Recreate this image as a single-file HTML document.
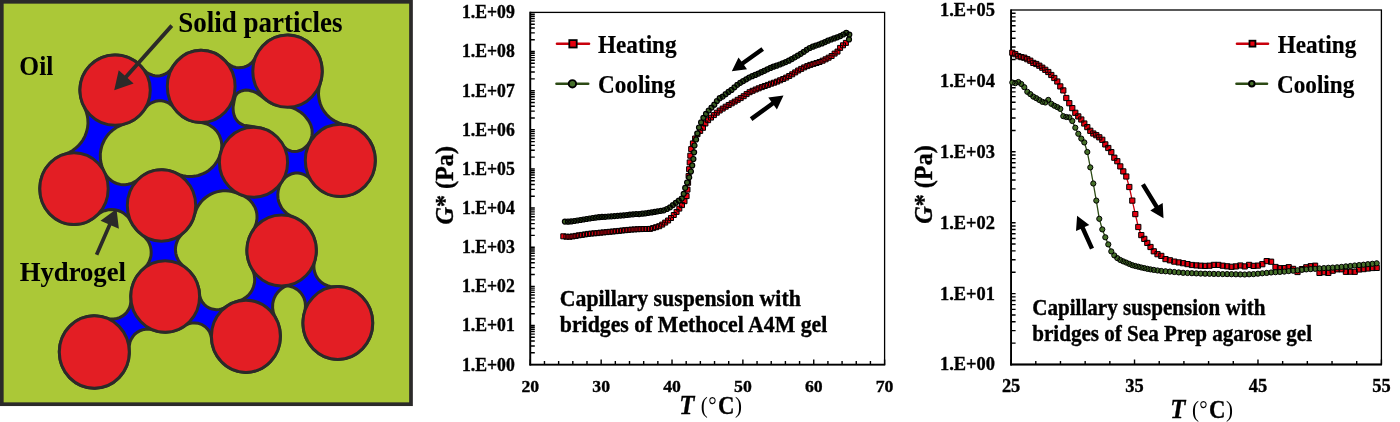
<!DOCTYPE html>
<html><head><meta charset="utf-8"><style>
html,body{margin:0;padding:0;background:#fff;}
svg{display:block;}
text{font-family:"Liberation Serif","Times New Roman",serif;fill:#000;}
.b{font-weight:bold;}
</style></head><body>
<svg width="1400" height="422" viewBox="0 0 1400 422">
<rect width="1400" height="422" fill="#fff"/>
<rect x="1.8" y="1.8" width="409.2" height="402.4" fill="#abc837" stroke="#2b2a29" stroke-width="3.7"/>
<path d="M171.2,69.1 L169.6,70.8 L167.4,72.7 L165.4,73.9 L162.8,75.0 L160.0,75.7 L157.7,75.9 L154.8,75.7 L152.6,75.2 L149.4,74.0 L146.4,72.2 L144.3,70.2 L141.3,66.5 L138.8,64.1 L136.0,61.8 L132.5,59.5 L129.3,57.9 L125.4,56.4 L121.9,55.6 L117.8,55.0 L114.3,54.9 L110.9,55.2 L107.5,55.7 L104.3,56.6 L101.5,57.6 L98.4,59.1 L95.5,60.9 L92.7,63.0 L90.1,65.3 L87.8,67.9 L85.8,70.6 L84.0,73.6 L82.5,76.7 L81.4,80.0 L80.6,83.3 L80.1,86.5 L79.9,89.3 L80.0,92.5 L80.8,97.9 L82.3,102.9 L85.0,108.6 L86.2,111.6 L87.3,115.8 L87.8,119.1 L88.0,123.4 L87.5,127.8 L86.5,132.0 L85.0,136.1 L82.9,140.0 L81.1,142.6 L78.2,145.9 L74.9,148.8 L72.3,150.7 L69.4,152.3 L66.4,153.6 L61.6,155.3 L58.0,157.0 L54.4,159.3 L51.1,162.0 L48.2,165.2 L45.6,168.6 L43.5,172.4 L41.8,176.5 L40.4,181.8 L40.0,185.1 L39.8,187.9 L39.9,191.2 L40.2,194.1 L40.8,197.3 L41.6,200.1 L43.8,205.5 L45.2,208.0 L47.0,210.7 L48.7,212.9 L50.9,215.2 L53.1,217.1 L55.6,219.0 L58.5,220.7 L61.0,221.9 L63.9,223.0 L66.6,223.8 L69.7,224.3 L72.5,224.6 L75.5,224.6 L78.3,224.3 L81.4,223.8 L84.1,223.0 L89.3,220.8 L93.6,218.1 L99.7,213.1 L102.2,211.7 L104.8,210.7 L108.2,209.8 L111.0,209.6 L114.6,209.8 L118.0,210.5 L120.7,211.5 L123.2,212.9 L125.4,214.6 L128.0,217.0 L130.0,219.9 L133.1,225.4 L135.7,228.9 L139.3,232.6 L144.5,236.8 L147.2,240.0 L148.7,242.3 L149.6,244.2 L150.5,246.8 L151.0,249.5 L151.2,252.3 L151.0,255.8 L150.1,259.1 L148.8,262.3 L147.7,264.1 L146.0,266.3 L140.9,271.2 L138.0,274.6 L135.3,278.8 L133.5,282.7 L132.1,286.9 L131.2,291.4 L130.8,295.5 L130.9,301.7 L130.3,305.2 L129.6,307.5 L128.2,310.2 L126.8,312.2 L125.2,314.0 L122.3,316.2 L119.6,317.6 L116.8,318.5 L113.8,319.0 L111.3,319.0 L108.9,318.7 L101.9,316.7 L96.8,315.9 L93.6,315.8 L90.8,316.0 L87.6,316.5 L85.1,317.1 L80.0,319.0 L77.1,320.4 L74.8,322.0 L72.2,323.9 L70.1,325.9 L67.9,328.3 L66.1,330.5 L63.1,335.6 L61.1,340.5 L59.8,345.7 L59.3,351.2 L59.6,356.5 L60.8,362.4 L62.7,367.6 L65.3,372.2 L68.9,376.9 L70.9,378.9 L73.4,381.0 L75.7,382.6 L78.5,384.3 L83.4,386.4 L85.9,387.1 L89.0,387.8 L91.8,388.1 L95.0,388.2 L100.4,387.6 L103.5,386.9 L106.2,386.0 L109.2,384.8 L111.7,383.4 L114.4,381.7 L116.6,379.9 L119.0,377.7 L120.9,375.6 L122.9,372.9 L124.4,370.5 L125.9,367.6 L127.0,364.9 L128.6,359.2 L129.3,353.7 L129.2,346.1 L130.0,342.0 L131.2,339.2 L132.8,336.6 L134.7,334.3 L137.1,332.4 L139.7,330.9 L141.9,330.0 L144.3,329.4 L147.3,329.1 L151.5,329.5 L156.9,331.2 L161.1,331.9 L165.9,332.2 L170.4,331.8 L174.5,330.9 L178.5,329.4 L182.1,327.6 L186.4,324.8 L188.5,323.9 L191.7,323.1 L194.5,322.9 L198.4,323.3 L202.1,324.7 L205.3,326.8 L208.1,329.6 L209.6,332.0 L210.8,335.1 L211.3,337.3 L211.8,341.7 L212.5,345.2 L213.7,349.2 L215.1,352.6 L217.2,356.3 L219.7,359.8 L222.7,363.0 L225.9,365.8 L229.5,368.1 L233.4,369.9 L237.4,371.3 L241.6,372.1 L245.8,372.4 L250.0,372.1 L254.2,371.3 L258.2,370.0 L261.3,368.6 L264.4,366.7 L267.7,364.3 L270.4,361.7 L273.0,358.6 L275.1,355.5 L277.0,351.8 L278.4,348.4 L279.6,344.1 L280.2,339.9 L280.4,335.5 L280.1,331.8 L279.4,327.6 L278.3,324.0 L276.8,320.2 L274.5,315.8 L273.3,312.3 L272.6,308.1 L272.7,303.7 L273.3,300.9 L274.2,298.1 L275.8,294.9 L277.5,292.6 L279.5,290.4 L281.7,288.6 L284.1,287.0 L286.8,285.8 L289.9,286.2 L292.4,287.0 L294.8,288.1 L297.0,289.4 L299.1,291.1 L300.9,293.0 L302.4,295.1 L304.0,298.1 L305.1,301.8 L305.5,305.8 L305.2,309.1 L303.6,315.8 L303.0,320.2 L303.0,325.6 L303.6,330.2 L305.0,335.4 L307.4,340.8 L310.4,345.5 L313.8,349.4 L315.8,351.2 L318.3,353.2 L323.0,356.0 L325.4,357.0 L328.4,358.0 L331.1,358.7 L334.3,359.2 L339.6,359.3 L342.8,359.0 L345.6,358.5 L348.6,357.6 L351.3,356.6 L354.1,355.2 L356.4,353.8 L358.7,352.2 L361.3,349.9 L363.7,347.4 L365.8,344.8 L367.3,342.4 L369.0,339.3 L370.4,336.0 L371.5,332.6 L372.2,329.1 L372.6,325.8 L372.7,322.2 L372.5,319.3 L372.1,316.0 L371.2,312.5 L370.1,309.2 L368.6,305.9 L365.8,301.2 L362.4,297.2 L358.5,293.7 L356.4,292.2 L353.6,290.5 L348.9,288.5 L343.9,287.2 L339.4,286.6 L332.2,286.7 L330.2,286.4 L327.7,285.7 L324.6,284.5 L322.4,283.1 L320.4,281.4 L318.5,279.5 L317.0,277.4 L315.7,275.1 L314.8,272.6 L314.1,269.4 L313.9,266.8 L314.0,264.8 L314.3,262.9 L315.4,258.3 L315.9,255.5 L316.3,252.0 L316.3,248.8 L315.9,245.1 L315.1,241.0 L313.9,237.5 L312.5,234.3 L310.9,231.3 L308.5,228.0 L306.0,225.2 L303.5,222.9 L301.0,221.0 L298.1,219.2 L295.5,217.9 L291.0,216.0 L289.0,214.9 L286.5,213.2 L284.3,211.1 L281.8,208.1 L280.0,204.8 L278.6,201.2 L278.0,198.2 L277.8,194.4 L278.2,190.6 L279.2,186.9 L280.8,183.4 L283.3,179.7 L285.6,177.2 L288.4,175.3 L292.0,173.7 L295.3,173.1 L298.2,173.0 L301.0,173.5 L304.2,174.6 L306.6,176.0 L308.4,177.3 L310.4,179.4 L313.3,183.4 L316.1,186.5 L319.5,189.5 L323.1,191.9 L327.6,194.0 L331.9,195.4 L336.8,196.3 L341.9,196.5 L347.0,195.8 L352.2,194.4 L355.2,193.1 L357.5,191.9 L361.9,188.8 L364.4,186.6 L366.2,184.7 L369.5,180.4 L372.3,175.1 L374.1,169.9 L374.9,165.6 L375.3,161.2 L375.1,156.8 L374.4,152.4 L373.2,148.1 L371.5,144.1 L369.3,140.3 L366.7,136.7 L364.4,134.2 L361.7,131.9 L358.9,129.8 L355.4,127.8 L352.8,126.7 L349.7,125.6 L342.3,124.1 L339.4,123.1 L335.6,121.5 L332.9,119.9 L329.5,117.4 L326.6,114.5 L324.0,111.2 L321.9,107.7 L320.3,103.8 L319.4,100.8 L318.7,96.8 L318.5,93.6 L318.7,90.5 L319.1,87.5 L321.1,80.1 L321.8,76.4 L322.2,72.0 L322.0,67.6 L321.3,63.2 L320.1,58.9 L318.4,54.9 L316.3,51.1 L313.3,47.0 L310.1,43.8 L306.2,40.8 L302.2,38.5 L297.7,36.7 L293.3,35.6 L288.5,35.1 L283.4,35.4 L279.0,36.2 L274.3,37.8 L270.3,39.8 L266.1,42.8 L262.4,46.2 L259.6,49.8 L257.3,53.5 L254.7,58.8 L252.6,61.7 L251.0,63.3 L248.7,65.1 L246.6,66.2 L244.4,67.0 L241.6,67.6 L238.7,67.7 L235.8,67.4 L233.0,66.6 L230.9,65.6 L228.9,64.4 L227.1,62.9 L224.0,59.7 L221.5,57.5 L218.5,55.4 L215.6,53.7 L211.9,52.2 L207.9,51.0 L203.8,50.4 L200.3,50.3 L195.5,50.8 L191.5,51.8 L187.6,53.4 L183.7,55.5 L180.3,58.0 L177.2,61.0 L174.4,64.3ZM240.6,300.3 L234.4,302.3 L231.2,303.6 L223.6,308.1 L221.5,308.9 L219.4,309.4 L216.1,309.7 L212.2,309.1 L209.1,308.0 L206.3,306.2 L204.6,304.8 L203.1,303.1 L201.9,301.3 L200.8,299.3 L199.8,296.2 L199.1,290.3 L198.1,286.2 L196.7,282.1 L194.8,278.2 L192.4,274.6 L189.6,271.3 L186.9,268.8 L182.2,265.1 L179.9,262.6 L178.4,260.3 L177.1,257.8 L176.2,255.2 L175.8,253.2 L175.4,249.8 L175.6,247.0 L176.3,243.6 L177.5,240.4 L178.8,238.0 L180.1,236.3 L181.4,234.7 L186.8,229.6 L188.5,227.4 L190.5,224.5 L192.0,221.7 L193.1,219.0 L195.2,212.5 L196.3,209.6 L197.6,206.9 L199.3,204.2 L201.2,201.8 L203.3,199.5 L205.7,197.5 L208.2,195.7 L210.9,194.1 L213.7,192.9 L216.7,191.9 L219.7,191.2 L222.8,190.8 L225.9,190.8 L229.0,191.0 L232.0,191.5 L237.0,193.1 L243.4,195.8 L245.4,196.9 L247.4,198.1 L249.7,200.1 L252.7,203.6 L254.3,206.2 L255.3,208.2 L256.3,211.1 L256.8,213.4 L257.0,215.7 L257.0,218.7 L256.2,223.2 L254.6,227.5 L251.1,233.6 L249.0,238.3 L247.5,243.6 L246.9,249.4 L247.2,254.9 L248.4,260.6 L249.9,264.9 L253.1,271.2 L254.2,274.7 L254.7,279.1 L254.6,282.0 L254.2,284.2 L253.4,287.0 L252.3,289.7 L250.8,292.2 L248.5,295.1 L246.3,297.0 L243.2,299.1ZM104.2,171.9 L102.3,167.6 L101.1,163.4 L100.4,159.1 L100.3,153.6 L101.0,149.3 L102.1,145.0 L104.4,140.0 L106.7,136.4 L108.8,133.8 L111.1,131.5 L113.6,129.4 L116.4,127.5 L121.3,125.1 L129.5,122.2 L132.5,120.7 L135.5,118.8 L138.6,116.3 L141.1,113.8 L143.3,111.2 L146.2,107.1 L148.2,105.0 L151.5,102.8 L155.3,101.3 L158.7,100.8 L161.6,100.8 L164.4,101.4 L167.1,102.3 L169.6,103.7 L171.9,105.5 L173.4,107.2 L176.7,111.4 L179.8,114.4 L182.5,116.5 L185.9,118.6 L189.1,120.1 L192.3,121.2 L196.1,122.1 L201.3,122.6 L204.3,123.2 L207.2,124.1 L209.9,125.4 L213.7,128.0 L216.8,131.3 L219.3,135.2 L220.9,139.5 L221.4,141.7 L221.8,144.7 L221.7,147.0 L221.4,150.0 L219.6,156.2 L218.4,159.0 L216.9,161.7 L215.1,164.2 L213.1,166.6 L210.9,168.7 L208.5,170.7 L205.9,172.3 L203.1,173.7 L198.3,175.5 L195.3,176.1 L192.2,176.5 L189.1,176.5 L186.0,176.3 L183.0,175.7 L180.0,174.9 L172.9,171.8 L168.3,170.5 L163.0,169.8 L157.4,170.1 L154.7,170.5 L151.7,171.3 L149.1,172.2 L146.2,173.6 L141.9,176.2 L136.4,180.8 L132.7,182.8 L130.1,183.8 L128.1,184.3 L125.3,184.7 L123.2,184.7 L120.4,184.4 L117.6,183.8 L114.4,182.5 L111.9,181.0 L109.7,179.3 L107.3,176.8 L105.6,174.5ZM234.2,100.6 L234.9,97.5 L235.6,95.6 L236.5,94.3 L238.0,92.8 L240.4,91.4 L243.2,90.5 L245.5,90.1 L248.6,90.3 L252.4,91.2 L255.9,92.5 L261.4,96.3 L266.8,100.5 L271.1,103.1 L273.8,104.4 L276.8,105.2 L284.8,106.1 L289.7,107.1 L293.2,108.1 L296.2,109.5 L300.7,112.3 L302.9,114.0 L304.8,115.9 L308.2,120.2 L309.6,122.5 L310.7,124.8 L311.4,127.0 L312.0,129.3 L312.2,133.1 L311.9,135.5 L311.4,137.8 L309.9,141.6 L308.0,144.4 L305.6,147.0 L302.9,149.1 L300.6,150.3 L297.5,151.2 L294.3,151.6 L291.4,151.2 L288.6,150.2 L286.2,148.7 L284.5,147.2 L283.1,145.5 L280.4,141.4 L276.0,136.5 L272.2,133.5 L267.5,130.5 L264.2,129.0 L260.6,127.9 L252.0,126.4 L245.8,125.6 L243.4,125.1 L240.5,123.7 L238.2,122.0 L236.3,119.8 L235.1,117.8 L234.2,115.5 L233.4,112.4 L233.1,109.3 L233.1,107.0Z" fill="#0000ff" stroke="#2b2a29" stroke-width="3.0" fill-rule="evenodd" stroke-linejoin="round"/>
<ellipse cx="115.1" cy="90.1" rx="35.20" ry="35.20" fill="#e31e24" stroke="#2b2a29" stroke-width="3.0"/>
<ellipse cx="201.2" cy="86.4" rx="33.90" ry="36.10" fill="#e31e24" stroke="#2b2a29" stroke-width="3.0"/>
<ellipse cx="287.5" cy="71.2" rx="34.70" ry="36.10" fill="#e31e24" stroke="#2b2a29" stroke-width="3.0"/>
<ellipse cx="253.5" cy="162.3" rx="34.10" ry="35.00" fill="#e31e24" stroke="#2b2a29" stroke-width="3.0"/>
<ellipse cx="340.3" cy="160.4" rx="35.00" ry="36.10" fill="#e31e24" stroke="#2b2a29" stroke-width="3.0"/>
<ellipse cx="74" cy="188.7" rx="34.20" ry="35.90" fill="#e31e24" stroke="#2b2a29" stroke-width="3.0"/>
<ellipse cx="161.5" cy="205.5" rx="34.20" ry="35.70" fill="#e31e24" stroke="#2b2a29" stroke-width="3.0"/>
<ellipse cx="281.6" cy="250.4" rx="34.70" ry="35.50" fill="#e31e24" stroke="#2b2a29" stroke-width="3.0"/>
<ellipse cx="165.2" cy="296.5" rx="34.40" ry="35.70" fill="#e31e24" stroke="#2b2a29" stroke-width="3.0"/>
<ellipse cx="94.3" cy="352" rx="35.00" ry="36.20" fill="#e31e24" stroke="#2b2a29" stroke-width="3.0"/>
<ellipse cx="245.9" cy="336.3" rx="34.50" ry="36.10" fill="#e31e24" stroke="#2b2a29" stroke-width="3.0"/>
<ellipse cx="337.8" cy="323" rx="34.90" ry="36.40" fill="#e31e24" stroke="#2b2a29" stroke-width="3.0"/>
<path d="M170.4,24.3 L124.7,75.6 L118.7,70.2 L114.2,90.3 L133.6,83.5 L127.6,78.1 L173.2,26.9Z" fill="#2b2a29"/>
<path d="M98.3,255.5 L111.4,225.4 L118.9,228.7 L116.5,209.1 L100.5,220.7 L108.0,223.9 L94.9,253.9Z" fill="#2b2a29"/>
<text transform="translate(178.30,32.30) scale(1,1.06)" font-size="27" class="b" fill="#24203a" stroke="#24203a" stroke-width="0.05">Solid particles</text>
<text transform="translate(19.30,75.40) scale(1,1.06)" font-size="25.5" class="b" fill="#24203a" stroke="#24203a" stroke-width="0.05">Oil</text>
<text transform="translate(19.70,280.60) scale(1,1.06)" font-size="26.7" class="b" fill="#24203a" stroke="#24203a" stroke-width="0.05">Hydrogel</text>
<rect x="530.3" y="12.4" width="354.30000000000007" height="352.20000000000005" fill="none" stroke="#000" stroke-width="1.3"/>
<line x1="530.3" y1="11.8" x2="530.3" y2="365.5" stroke="#000" stroke-width="1.8"/>
<line x1="529.4" y1="364.6" x2="885.2" y2="364.6" stroke="#000" stroke-width="1.8"/>
<path d="M530.3,352.82h4.5M530.3,345.93h4.5M530.3,341.04h4.5M530.3,337.25h4.5M530.3,334.15h4.5M530.3,331.53h4.5M530.3,329.26h4.5M530.3,327.26h4.5M530.3,325.47h4.5M530.3,313.69h4.5M530.3,306.80h4.5M530.3,301.91h4.5M530.3,298.11h4.5M530.3,295.02h4.5M530.3,292.40h4.5M530.3,290.13h4.5M530.3,288.12h4.5M530.3,286.33h4.5M530.3,274.55h4.5M530.3,267.66h4.5M530.3,262.77h4.5M530.3,258.98h4.5M530.3,255.88h4.5M530.3,253.26h4.5M530.3,250.99h4.5M530.3,248.99h4.5M530.3,247.20h4.5M530.3,235.42h4.5M530.3,228.53h4.5M530.3,223.64h4.5M530.3,219.85h4.5M530.3,216.75h4.5M530.3,214.13h4.5M530.3,211.86h4.5M530.3,209.86h4.5M530.3,208.07h4.5M530.3,196.29h4.5M530.3,189.40h4.5M530.3,184.51h4.5M530.3,180.71h4.5M530.3,177.62h4.5M530.3,175.00h4.5M530.3,172.73h4.5M530.3,170.72h4.5M530.3,168.93h4.5M530.3,157.15h4.5M530.3,150.26h4.5M530.3,145.37h4.5M530.3,141.58h4.5M530.3,138.48h4.5M530.3,135.86h4.5M530.3,133.59h4.5M530.3,131.59h4.5M530.3,129.80h4.5M530.3,118.02h4.5M530.3,111.13h4.5M530.3,106.24h4.5M530.3,102.45h4.5M530.3,99.35h4.5M530.3,96.73h4.5M530.3,94.46h4.5M530.3,92.46h4.5M530.3,90.67h4.5M530.3,78.89h4.5M530.3,72.00h4.5M530.3,67.11h4.5M530.3,63.31h4.5M530.3,60.22h4.5M530.3,57.60h4.5M530.3,55.33h4.5M530.3,53.32h4.5M530.3,51.53h4.5M530.3,39.75h4.5M530.3,32.86h4.5M530.3,27.97h4.5M530.3,24.18h4.5M530.3,21.08h4.5M530.3,18.46h4.5M530.3,16.19h4.5M530.3,14.19h4.5" stroke="#000" stroke-width="1.4" fill="none"/>
<path d="M530.30,364.6v-5M544.47,364.6v-3.6M558.64,364.6v-3.6M572.82,364.6v-3.6M586.99,364.6v-3.6M601.16,364.6v-5M615.33,364.6v-3.6M629.50,364.6v-3.6M643.68,364.6v-3.6M657.85,364.6v-3.6M672.02,364.6v-5M686.19,364.6v-3.6M700.36,364.6v-3.6M714.54,364.6v-3.6M728.71,364.6v-3.6M742.88,364.6v-5M757.05,364.6v-3.6M771.22,364.6v-3.6M785.40,364.6v-3.6M799.57,364.6v-3.6M813.74,364.6v-5M827.91,364.6v-3.6M842.08,364.6v-3.6M856.26,364.6v-3.6M870.43,364.6v-3.6M884.60,364.6v-5" stroke="#000" stroke-width="1.4" fill="none"/>
<text transform="translate(514.80,370.50) scale(1,1.06)" font-size="17.7" class="b" text-anchor="end" stroke="#000" stroke-width="0.35">1.E+00</text>
<text transform="translate(514.80,331.37) scale(1,1.06)" font-size="17.7" class="b" text-anchor="end" stroke="#000" stroke-width="0.35">1.E+01</text>
<text transform="translate(514.80,292.23) scale(1,1.06)" font-size="17.7" class="b" text-anchor="end" stroke="#000" stroke-width="0.35">1.E+02</text>
<text transform="translate(514.80,253.10) scale(1,1.06)" font-size="17.7" class="b" text-anchor="end" stroke="#000" stroke-width="0.35">1.E+03</text>
<text transform="translate(514.80,213.97) scale(1,1.06)" font-size="17.7" class="b" text-anchor="end" stroke="#000" stroke-width="0.35">1.E+04</text>
<text transform="translate(514.80,174.83) scale(1,1.06)" font-size="17.7" class="b" text-anchor="end" stroke="#000" stroke-width="0.35">1.E+05</text>
<text transform="translate(514.80,135.70) scale(1,1.06)" font-size="17.7" class="b" text-anchor="end" stroke="#000" stroke-width="0.35">1.E+06</text>
<text transform="translate(514.80,96.57) scale(1,1.06)" font-size="17.7" class="b" text-anchor="end" stroke="#000" stroke-width="0.35">1.E+07</text>
<text transform="translate(514.80,57.43) scale(1,1.06)" font-size="17.7" class="b" text-anchor="end" stroke="#000" stroke-width="0.35">1.E+08</text>
<text transform="translate(514.80,18.30) scale(1,1.06)" font-size="17.7" class="b" text-anchor="end" stroke="#000" stroke-width="0.35">1.E+09</text>
<text transform="translate(530.30,392.20) scale(1,1.0)" font-size="17.7" class="b" text-anchor="middle" stroke="#000" stroke-width="0.35">20</text>
<text transform="translate(601.16,392.20) scale(1,1.0)" font-size="17.7" class="b" text-anchor="middle" stroke="#000" stroke-width="0.35">30</text>
<text transform="translate(672.02,392.20) scale(1,1.0)" font-size="17.7" class="b" text-anchor="middle" stroke="#000" stroke-width="0.35">40</text>
<text transform="translate(742.88,392.20) scale(1,1.0)" font-size="17.7" class="b" text-anchor="middle" stroke="#000" stroke-width="0.35">50</text>
<text transform="translate(813.74,392.20) scale(1,1.0)" font-size="17.7" class="b" text-anchor="middle" stroke="#000" stroke-width="0.35">60</text>
<text transform="translate(884.60,392.20) scale(1,1.0)" font-size="17.7" class="b" text-anchor="middle" stroke="#000" stroke-width="0.35">70</text>
<text transform="translate(452.70,185.30) rotate(-90) scale(1,1.06)" font-size="24.2" class="b" text-anchor="middle" stroke="#000" stroke-width="0.35"><tspan font-style="italic">G</tspan>* (Pa)</text>
<text transform="translate(679.20,413.60) scale(1,1.06)" font-size="22.8" stroke="#000" stroke-width="0.0001"><tspan class="b" font-style="italic" font-size="24.8" stroke-width="0.3">T</tspan><tspan font-size="21" x="21.6" y="-0.6">(</tspan><tspan font-size="21" x="29" y="-0.6">°</tspan><tspan class="b" stroke-width="0.3" x="38.8" y="0">C</tspan><tspan font-size="21" x="55.8" y="-0.6">)</tspan></text>
<polyline points="563.3,236.3 566.4,236.7 569.5,236.8 572.6,236.4 575.7,235.9 578.8,235.3 581.9,234.9 585.0,234.4 588.0,233.9 591.1,233.6 594.2,233.3 597.3,233.1 600.4,232.7 603.5,232.4 606.6,232.1 609.7,231.8 612.8,231.5 615.9,231.2 619.0,230.9 622.1,230.5 625.2,230.2 628.3,229.9 631.4,229.6 634.5,229.4 637.6,229.2 640.7,229.1 643.8,229.0 646.9,229.0 650.0,228.9 653.1,228.1 656.1,227.2 659.2,226.2 662.2,224.6 665.2,222.6 668.1,220.5 671.0,218.0 673.8,215.0 676.6,211.9 679.3,208.6 682.0,205.1 684.5,201.2 686.6,196.1 687.5,189.6 688.1,182.8 688.6,176.0 689.1,169.2 689.7,162.4 690.3,155.7 691.2,149.1 692.9,143.4 695.1,138.5 697.5,134.2 700.2,130.9 703.0,127.8 705.4,123.5 708.1,120.2 711.0,117.6 713.9,115.1 716.8,112.7 719.7,110.5 722.7,108.6 725.7,106.7 728.7,105.0 731.7,103.3 734.7,101.6 737.7,99.8 740.7,98.1 743.7,96.2 746.6,94.1 749.6,92.2 752.6,90.8 755.7,89.5 758.7,88.3 761.8,87.1 764.8,86.0 767.9,84.9 771.0,83.7 774.0,82.7 777.1,81.6 780.1,80.3 783.2,79.0 786.2,77.6 789.2,76.0 792.2,74.3 795.2,72.4 798.2,70.5 801.2,68.9 804.2,67.4 807.3,66.1 810.3,64.9 813.4,63.9 816.5,63.0 819.5,62.0 822.6,60.7 825.6,59.3 828.6,57.7 831.6,56.0 834.6,53.6 837.5,51.6 840.1,47.9 843.0,45.3 845.9,42.9" fill="none" stroke="#c8000c" stroke-width="1.0"/>
<path d="M560.8,233.8h5.0v5.0h-5.0zM563.9,234.2h5.0v5.0h-5.0zM567.0,234.3h5.0v5.0h-5.0zM570.1,233.9h5.0v5.0h-5.0zM573.2,233.4h5.0v5.0h-5.0zM576.3,232.8h5.0v5.0h-5.0zM579.4,232.4h5.0v5.0h-5.0zM582.5,231.9h5.0v5.0h-5.0zM585.5,231.4h5.0v5.0h-5.0zM588.6,231.1h5.0v5.0h-5.0zM591.7,230.8h5.0v5.0h-5.0zM594.8,230.6h5.0v5.0h-5.0zM597.9,230.2h5.0v5.0h-5.0zM601.0,229.9h5.0v5.0h-5.0zM604.1,229.6h5.0v5.0h-5.0zM607.2,229.3h5.0v5.0h-5.0zM610.3,229.0h5.0v5.0h-5.0zM613.4,228.7h5.0v5.0h-5.0zM616.5,228.4h5.0v5.0h-5.0zM619.6,228.0h5.0v5.0h-5.0zM622.7,227.7h5.0v5.0h-5.0zM625.8,227.4h5.0v5.0h-5.0zM628.9,227.1h5.0v5.0h-5.0zM632.0,226.9h5.0v5.0h-5.0zM635.1,226.7h5.0v5.0h-5.0zM638.2,226.6h5.0v5.0h-5.0zM641.3,226.5h5.0v5.0h-5.0zM644.4,226.5h5.0v5.0h-5.0zM647.5,226.4h5.0v5.0h-5.0zM650.6,225.6h5.0v5.0h-5.0zM653.6,224.7h5.0v5.0h-5.0zM656.7,223.7h5.0v5.0h-5.0zM659.7,222.1h5.0v5.0h-5.0zM662.7,220.1h5.0v5.0h-5.0zM665.6,218.0h5.0v5.0h-5.0zM668.5,215.5h5.0v5.0h-5.0zM671.3,212.5h5.0v5.0h-5.0zM674.1,209.4h5.0v5.0h-5.0zM676.8,206.1h5.0v5.0h-5.0zM679.5,202.6h5.0v5.0h-5.0zM682.0,198.7h5.0v5.0h-5.0zM684.1,193.6h5.0v5.0h-5.0zM685.0,187.1h5.0v5.0h-5.0zM685.6,180.3h5.0v5.0h-5.0zM686.1,173.5h5.0v5.0h-5.0zM686.6,166.7h5.0v5.0h-5.0zM687.2,159.9h5.0v5.0h-5.0zM687.8,153.2h5.0v5.0h-5.0zM688.7,146.6h5.0v5.0h-5.0zM690.4,140.9h5.0v5.0h-5.0zM692.6,136.0h5.0v5.0h-5.0zM695.0,131.7h5.0v5.0h-5.0zM697.7,128.4h5.0v5.0h-5.0zM700.5,125.3h5.0v5.0h-5.0zM702.9,121.0h5.0v5.0h-5.0zM705.6,117.7h5.0v5.0h-5.0zM708.5,115.1h5.0v5.0h-5.0zM711.4,112.6h5.0v5.0h-5.0zM714.3,110.2h5.0v5.0h-5.0zM717.2,108.0h5.0v5.0h-5.0zM720.2,106.1h5.0v5.0h-5.0zM723.2,104.2h5.0v5.0h-5.0zM726.2,102.5h5.0v5.0h-5.0zM729.2,100.8h5.0v5.0h-5.0zM732.2,99.1h5.0v5.0h-5.0zM735.2,97.3h5.0v5.0h-5.0zM738.2,95.6h5.0v5.0h-5.0zM741.2,93.7h5.0v5.0h-5.0zM744.1,91.6h5.0v5.0h-5.0zM747.1,89.7h5.0v5.0h-5.0zM750.1,88.3h5.0v5.0h-5.0zM753.2,87.0h5.0v5.0h-5.0zM756.2,85.8h5.0v5.0h-5.0zM759.3,84.6h5.0v5.0h-5.0zM762.3,83.5h5.0v5.0h-5.0zM765.4,82.4h5.0v5.0h-5.0zM768.5,81.2h5.0v5.0h-5.0zM771.5,80.2h5.0v5.0h-5.0zM774.6,79.1h5.0v5.0h-5.0zM777.6,77.8h5.0v5.0h-5.0zM780.7,76.5h5.0v5.0h-5.0zM783.7,75.1h5.0v5.0h-5.0zM786.7,73.5h5.0v5.0h-5.0zM789.7,71.8h5.0v5.0h-5.0zM792.7,69.9h5.0v5.0h-5.0zM795.7,68.0h5.0v5.0h-5.0zM798.7,66.4h5.0v5.0h-5.0zM801.7,64.9h5.0v5.0h-5.0zM804.8,63.6h5.0v5.0h-5.0zM807.8,62.4h5.0v5.0h-5.0zM810.9,61.4h5.0v5.0h-5.0zM814.0,60.5h5.0v5.0h-5.0zM817.0,59.5h5.0v5.0h-5.0zM820.1,58.2h5.0v5.0h-5.0zM823.1,56.8h5.0v5.0h-5.0zM826.1,55.2h5.0v5.0h-5.0zM829.1,53.5h5.0v5.0h-5.0zM832.1,51.1h5.0v5.0h-5.0zM835.0,49.1h5.0v5.0h-5.0zM837.6,45.4h5.0v5.0h-5.0zM840.5,42.8h5.0v5.0h-5.0zM843.4,40.4h5.0v5.0h-5.0z" fill="#f00010" stroke="#000" stroke-width="1.0"/>
<polyline points="849.0,39.4 849.3,34.6 846.3,32.9 843.3,34.5 840.3,36.1 837.2,37.3 834.1,38.4 831.1,39.5 828.0,40.7 825.0,42.1 821.9,43.4 818.9,44.6 815.8,45.6 812.8,46.7 809.7,48.0 806.7,49.8 803.8,51.8 800.8,53.8 797.8,55.6 794.8,57.4 791.8,59.1 788.8,60.7 785.8,62.1 782.7,63.3 779.7,64.5 776.6,65.7 773.5,66.7 770.5,67.9 767.4,69.3 764.4,70.8 761.4,72.2 758.4,73.6 755.3,74.9 752.3,76.2 749.2,77.6 746.2,79.3 743.2,81.1 740.2,82.9 737.3,84.8 734.4,87.3 731.5,89.9 728.5,91.9 725.6,94.2 722.7,96.6 719.7,98.2 716.9,101.0 714.3,104.7 711.5,107.6 708.7,110.5 706.0,113.9 703.4,117.8 701.1,122.4 699.0,127.5 697.4,133.3 696.1,139.5 694.5,145.5 694.1,152.3 693.4,159.0 692.2,165.4 690.9,171.5 689.2,177.4 687.1,182.5 685.2,187.9 683.7,193.8 681.7,198.6 678.8,200.7 675.8,202.9 672.9,205.1 670.0,207.3 667.0,209.0 663.9,210.3 660.8,210.9 657.7,211.4 654.6,211.9 651.6,212.4 648.5,212.8 645.4,213.3 642.3,213.7 639.2,214.1 636.1,214.0 633.0,214.3 629.9,214.6 626.8,215.0 623.7,215.3 620.6,215.6 617.5,215.8 614.4,216.1 611.3,216.3 608.2,216.5 605.1,216.8 602.0,216.9 598.9,217.2 595.8,217.6 592.7,218.0 589.6,218.5 586.5,219.0 583.4,219.5 580.4,220.0 577.3,220.5 574.2,221.0 571.1,221.4 568.0,221.7 564.9,221.6" fill="none" stroke="#2c4a14" stroke-width="1.0"/>
<path d="M846.5,39.4a2.5,2.5 0 1,0 5.0,0a2.5,2.5 0 1,0 -5.0,0zM846.8,34.6a2.5,2.5 0 1,0 5.0,0a2.5,2.5 0 1,0 -5.0,0zM843.8,32.9a2.5,2.5 0 1,0 5.0,0a2.5,2.5 0 1,0 -5.0,0zM840.8,34.5a2.5,2.5 0 1,0 5.0,0a2.5,2.5 0 1,0 -5.0,0zM837.8,36.1a2.5,2.5 0 1,0 5.0,0a2.5,2.5 0 1,0 -5.0,0zM834.7,37.3a2.5,2.5 0 1,0 5.0,0a2.5,2.5 0 1,0 -5.0,0zM831.6,38.4a2.5,2.5 0 1,0 5.0,0a2.5,2.5 0 1,0 -5.0,0zM828.6,39.5a2.5,2.5 0 1,0 5.0,0a2.5,2.5 0 1,0 -5.0,0zM825.5,40.7a2.5,2.5 0 1,0 5.0,0a2.5,2.5 0 1,0 -5.0,0zM822.5,42.1a2.5,2.5 0 1,0 5.0,0a2.5,2.5 0 1,0 -5.0,0zM819.4,43.4a2.5,2.5 0 1,0 5.0,0a2.5,2.5 0 1,0 -5.0,0zM816.4,44.6a2.5,2.5 0 1,0 5.0,0a2.5,2.5 0 1,0 -5.0,0zM813.3,45.6a2.5,2.5 0 1,0 5.0,0a2.5,2.5 0 1,0 -5.0,0zM810.3,46.7a2.5,2.5 0 1,0 5.0,0a2.5,2.5 0 1,0 -5.0,0zM807.2,48.0a2.5,2.5 0 1,0 5.0,0a2.5,2.5 0 1,0 -5.0,0zM804.2,49.8a2.5,2.5 0 1,0 5.0,0a2.5,2.5 0 1,0 -5.0,0zM801.3,51.8a2.5,2.5 0 1,0 5.0,0a2.5,2.5 0 1,0 -5.0,0zM798.3,53.8a2.5,2.5 0 1,0 5.0,0a2.5,2.5 0 1,0 -5.0,0zM795.3,55.6a2.5,2.5 0 1,0 5.0,0a2.5,2.5 0 1,0 -5.0,0zM792.3,57.4a2.5,2.5 0 1,0 5.0,0a2.5,2.5 0 1,0 -5.0,0zM789.3,59.1a2.5,2.5 0 1,0 5.0,0a2.5,2.5 0 1,0 -5.0,0zM786.3,60.7a2.5,2.5 0 1,0 5.0,0a2.5,2.5 0 1,0 -5.0,0zM783.3,62.1a2.5,2.5 0 1,0 5.0,0a2.5,2.5 0 1,0 -5.0,0zM780.2,63.3a2.5,2.5 0 1,0 5.0,0a2.5,2.5 0 1,0 -5.0,0zM777.2,64.5a2.5,2.5 0 1,0 5.0,0a2.5,2.5 0 1,0 -5.0,0zM774.1,65.7a2.5,2.5 0 1,0 5.0,0a2.5,2.5 0 1,0 -5.0,0zM771.0,66.7a2.5,2.5 0 1,0 5.0,0a2.5,2.5 0 1,0 -5.0,0zM768.0,67.9a2.5,2.5 0 1,0 5.0,0a2.5,2.5 0 1,0 -5.0,0zM764.9,69.3a2.5,2.5 0 1,0 5.0,0a2.5,2.5 0 1,0 -5.0,0zM761.9,70.8a2.5,2.5 0 1,0 5.0,0a2.5,2.5 0 1,0 -5.0,0zM758.9,72.2a2.5,2.5 0 1,0 5.0,0a2.5,2.5 0 1,0 -5.0,0zM755.9,73.6a2.5,2.5 0 1,0 5.0,0a2.5,2.5 0 1,0 -5.0,0zM752.8,74.9a2.5,2.5 0 1,0 5.0,0a2.5,2.5 0 1,0 -5.0,0zM749.8,76.2a2.5,2.5 0 1,0 5.0,0a2.5,2.5 0 1,0 -5.0,0zM746.7,77.6a2.5,2.5 0 1,0 5.0,0a2.5,2.5 0 1,0 -5.0,0zM743.7,79.3a2.5,2.5 0 1,0 5.0,0a2.5,2.5 0 1,0 -5.0,0zM740.7,81.1a2.5,2.5 0 1,0 5.0,0a2.5,2.5 0 1,0 -5.0,0zM737.7,82.9a2.5,2.5 0 1,0 5.0,0a2.5,2.5 0 1,0 -5.0,0zM734.8,84.8a2.5,2.5 0 1,0 5.0,0a2.5,2.5 0 1,0 -5.0,0zM731.9,87.3a2.5,2.5 0 1,0 5.0,0a2.5,2.5 0 1,0 -5.0,0zM729.0,89.9a2.5,2.5 0 1,0 5.0,0a2.5,2.5 0 1,0 -5.0,0zM726.0,91.9a2.5,2.5 0 1,0 5.0,0a2.5,2.5 0 1,0 -5.0,0zM723.1,94.2a2.5,2.5 0 1,0 5.0,0a2.5,2.5 0 1,0 -5.0,0zM720.2,96.6a2.5,2.5 0 1,0 5.0,0a2.5,2.5 0 1,0 -5.0,0zM717.2,98.2a2.5,2.5 0 1,0 5.0,0a2.5,2.5 0 1,0 -5.0,0zM714.4,101.0a2.5,2.5 0 1,0 5.0,0a2.5,2.5 0 1,0 -5.0,0zM711.8,104.7a2.5,2.5 0 1,0 5.0,0a2.5,2.5 0 1,0 -5.0,0zM709.0,107.6a2.5,2.5 0 1,0 5.0,0a2.5,2.5 0 1,0 -5.0,0zM706.2,110.5a2.5,2.5 0 1,0 5.0,0a2.5,2.5 0 1,0 -5.0,0zM703.5,113.9a2.5,2.5 0 1,0 5.0,0a2.5,2.5 0 1,0 -5.0,0zM700.9,117.8a2.5,2.5 0 1,0 5.0,0a2.5,2.5 0 1,0 -5.0,0zM698.6,122.4a2.5,2.5 0 1,0 5.0,0a2.5,2.5 0 1,0 -5.0,0zM696.5,127.5a2.5,2.5 0 1,0 5.0,0a2.5,2.5 0 1,0 -5.0,0zM694.9,133.3a2.5,2.5 0 1,0 5.0,0a2.5,2.5 0 1,0 -5.0,0zM693.6,139.5a2.5,2.5 0 1,0 5.0,0a2.5,2.5 0 1,0 -5.0,0zM692.0,145.5a2.5,2.5 0 1,0 5.0,0a2.5,2.5 0 1,0 -5.0,0zM691.6,152.3a2.5,2.5 0 1,0 5.0,0a2.5,2.5 0 1,0 -5.0,0zM690.9,159.0a2.5,2.5 0 1,0 5.0,0a2.5,2.5 0 1,0 -5.0,0zM689.7,165.4a2.5,2.5 0 1,0 5.0,0a2.5,2.5 0 1,0 -5.0,0zM688.4,171.5a2.5,2.5 0 1,0 5.0,0a2.5,2.5 0 1,0 -5.0,0zM686.7,177.4a2.5,2.5 0 1,0 5.0,0a2.5,2.5 0 1,0 -5.0,0zM684.6,182.5a2.5,2.5 0 1,0 5.0,0a2.5,2.5 0 1,0 -5.0,0zM682.7,187.9a2.5,2.5 0 1,0 5.0,0a2.5,2.5 0 1,0 -5.0,0zM681.2,193.8a2.5,2.5 0 1,0 5.0,0a2.5,2.5 0 1,0 -5.0,0zM679.2,198.6a2.5,2.5 0 1,0 5.0,0a2.5,2.5 0 1,0 -5.0,0zM676.3,200.7a2.5,2.5 0 1,0 5.0,0a2.5,2.5 0 1,0 -5.0,0zM673.3,202.9a2.5,2.5 0 1,0 5.0,0a2.5,2.5 0 1,0 -5.0,0zM670.4,205.1a2.5,2.5 0 1,0 5.0,0a2.5,2.5 0 1,0 -5.0,0zM667.5,207.3a2.5,2.5 0 1,0 5.0,0a2.5,2.5 0 1,0 -5.0,0zM664.5,209.0a2.5,2.5 0 1,0 5.0,0a2.5,2.5 0 1,0 -5.0,0zM661.4,210.3a2.5,2.5 0 1,0 5.0,0a2.5,2.5 0 1,0 -5.0,0zM658.3,210.9a2.5,2.5 0 1,0 5.0,0a2.5,2.5 0 1,0 -5.0,0zM655.2,211.4a2.5,2.5 0 1,0 5.0,0a2.5,2.5 0 1,0 -5.0,0zM652.1,211.9a2.5,2.5 0 1,0 5.0,0a2.5,2.5 0 1,0 -5.0,0zM649.1,212.4a2.5,2.5 0 1,0 5.0,0a2.5,2.5 0 1,0 -5.0,0zM646.0,212.8a2.5,2.5 0 1,0 5.0,0a2.5,2.5 0 1,0 -5.0,0zM642.9,213.3a2.5,2.5 0 1,0 5.0,0a2.5,2.5 0 1,0 -5.0,0zM639.8,213.7a2.5,2.5 0 1,0 5.0,0a2.5,2.5 0 1,0 -5.0,0zM636.7,214.1a2.5,2.5 0 1,0 5.0,0a2.5,2.5 0 1,0 -5.0,0zM633.6,214.0a2.5,2.5 0 1,0 5.0,0a2.5,2.5 0 1,0 -5.0,0zM630.5,214.3a2.5,2.5 0 1,0 5.0,0a2.5,2.5 0 1,0 -5.0,0zM627.4,214.6a2.5,2.5 0 1,0 5.0,0a2.5,2.5 0 1,0 -5.0,0zM624.3,215.0a2.5,2.5 0 1,0 5.0,0a2.5,2.5 0 1,0 -5.0,0zM621.2,215.3a2.5,2.5 0 1,0 5.0,0a2.5,2.5 0 1,0 -5.0,0zM618.1,215.6a2.5,2.5 0 1,0 5.0,0a2.5,2.5 0 1,0 -5.0,0zM615.0,215.8a2.5,2.5 0 1,0 5.0,0a2.5,2.5 0 1,0 -5.0,0zM611.9,216.1a2.5,2.5 0 1,0 5.0,0a2.5,2.5 0 1,0 -5.0,0zM608.8,216.3a2.5,2.5 0 1,0 5.0,0a2.5,2.5 0 1,0 -5.0,0zM605.7,216.5a2.5,2.5 0 1,0 5.0,0a2.5,2.5 0 1,0 -5.0,0zM602.6,216.8a2.5,2.5 0 1,0 5.0,0a2.5,2.5 0 1,0 -5.0,0zM599.5,216.9a2.5,2.5 0 1,0 5.0,0a2.5,2.5 0 1,0 -5.0,0zM596.4,217.2a2.5,2.5 0 1,0 5.0,0a2.5,2.5 0 1,0 -5.0,0zM593.3,217.6a2.5,2.5 0 1,0 5.0,0a2.5,2.5 0 1,0 -5.0,0zM590.2,218.0a2.5,2.5 0 1,0 5.0,0a2.5,2.5 0 1,0 -5.0,0zM587.1,218.5a2.5,2.5 0 1,0 5.0,0a2.5,2.5 0 1,0 -5.0,0zM584.0,219.0a2.5,2.5 0 1,0 5.0,0a2.5,2.5 0 1,0 -5.0,0zM580.9,219.5a2.5,2.5 0 1,0 5.0,0a2.5,2.5 0 1,0 -5.0,0zM577.9,220.0a2.5,2.5 0 1,0 5.0,0a2.5,2.5 0 1,0 -5.0,0zM574.8,220.5a2.5,2.5 0 1,0 5.0,0a2.5,2.5 0 1,0 -5.0,0zM571.7,221.0a2.5,2.5 0 1,0 5.0,0a2.5,2.5 0 1,0 -5.0,0zM568.6,221.4a2.5,2.5 0 1,0 5.0,0a2.5,2.5 0 1,0 -5.0,0zM565.5,221.7a2.5,2.5 0 1,0 5.0,0a2.5,2.5 0 1,0 -5.0,0zM562.4,221.6a2.5,2.5 0 1,0 5.0,0a2.5,2.5 0 1,0 -5.0,0z" fill="#3a5e20" stroke="#000" stroke-width="1.2"/>
<line x1="557" y1="43.8" x2="589" y2="43.8" stroke="#c8000c" stroke-width="2.6" stroke-linecap="round"/>
<rect x="569.3" y="40.1" width="7.40" height="7.40" fill="#e6000f" stroke="#000" stroke-width="1.8"/>
<text transform="translate(598.00,53.30) scale(1,1.06)" font-size="23.2" class="b" stroke="#000" stroke-width="0.2">Heating</text>
<line x1="556.5" y1="83.8" x2="588.2" y2="83.8" stroke="#2c4a14" stroke-width="2.6" stroke-linecap="round"/>
<circle cx="572.4" cy="83.8" r="3.70" fill="#46702a" stroke="#000" stroke-width="1.9"/>
<text transform="translate(598.00,93.30) scale(1,1.06)" font-size="23.2" class="b" stroke="#000" stroke-width="0.2">Cooling</text>
<path d="M761.4,47.2 L741.5,61.5 L738.5,57.4 L731.8,71.2 L747.0,69.3 L744.0,65.1 L764.0,50.8Z" fill="#000"/>
<path d="M752.4,120.9 L773.9,105.3 L776.9,109.4 L783.5,95.6 L768.3,97.6 L771.3,101.7 L749.8,117.3Z" fill="#000"/>
<text transform="translate(559.80,305.70) scale(1,1.06)" font-size="21.8" class="b" stroke="#000" stroke-width="0.35">Capillary suspension with</text>
<text transform="translate(559.80,331.70) scale(1,1.06)" font-size="21.8" class="b" stroke="#000" stroke-width="0.35">bridges of Methocel A4M gel</text>
<rect x="1011.1" y="10" width="370.30000000000007" height="354.5" fill="none" stroke="#000" stroke-width="1.3"/>
<line x1="1011.1" y1="9.4" x2="1011.1" y2="365.4" stroke="#000" stroke-width="1.8"/>
<line x1="1010.2" y1="364.5" x2="1382.0" y2="364.5" stroke="#000" stroke-width="1.8"/>
<path d="M1011.1,343.16h4.5M1011.1,330.67h4.5M1011.1,321.81h4.5M1011.1,314.94h4.5M1011.1,309.33h4.5M1011.1,304.58h4.5M1011.1,300.47h4.5M1011.1,296.84h4.5M1011.1,293.60h4.5M1011.1,272.26h4.5M1011.1,259.77h4.5M1011.1,250.91h4.5M1011.1,244.04h4.5M1011.1,238.43h4.5M1011.1,233.68h4.5M1011.1,229.57h4.5M1011.1,225.94h4.5M1011.1,222.70h4.5M1011.1,201.36h4.5M1011.1,188.87h4.5M1011.1,180.01h4.5M1011.1,173.14h4.5M1011.1,167.53h4.5M1011.1,162.78h4.5M1011.1,158.67h4.5M1011.1,155.04h4.5M1011.1,151.80h4.5M1011.1,130.46h4.5M1011.1,117.97h4.5M1011.1,109.11h4.5M1011.1,102.24h4.5M1011.1,96.63h4.5M1011.1,91.88h4.5M1011.1,87.77h4.5M1011.1,84.14h4.5M1011.1,80.90h4.5M1011.1,59.56h4.5M1011.1,47.07h4.5M1011.1,38.21h4.5M1011.1,31.34h4.5M1011.1,25.73h4.5M1011.1,20.98h4.5M1011.1,16.87h4.5M1011.1,13.24h4.5" stroke="#000" stroke-width="1.4" fill="none"/>
<path d="M1011.10,364.5v-5M1035.79,364.5v-3.6M1060.47,364.5v-3.6M1085.16,364.5v-3.6M1109.85,364.5v-3.6M1134.53,364.5v-5M1159.22,364.5v-3.6M1183.91,364.5v-3.6M1208.59,364.5v-3.6M1233.28,364.5v-3.6M1257.97,364.5v-5M1282.65,364.5v-3.6M1307.34,364.5v-3.6M1332.03,364.5v-3.6M1356.71,364.5v-3.6M1381.40,364.5v-5" stroke="#000" stroke-width="1.4" fill="none"/>
<text transform="translate(995.00,370.40) scale(1,1.06)" font-size="18.4" class="b" text-anchor="end" stroke="#000" stroke-width="0.35">1.E+00</text>
<text transform="translate(995.00,299.50) scale(1,1.06)" font-size="18.4" class="b" text-anchor="end" stroke="#000" stroke-width="0.35">1.E+01</text>
<text transform="translate(995.00,228.60) scale(1,1.06)" font-size="18.4" class="b" text-anchor="end" stroke="#000" stroke-width="0.35">1.E+02</text>
<text transform="translate(995.00,157.70) scale(1,1.06)" font-size="18.4" class="b" text-anchor="end" stroke="#000" stroke-width="0.35">1.E+03</text>
<text transform="translate(995.00,86.80) scale(1,1.06)" font-size="18.4" class="b" text-anchor="end" stroke="#000" stroke-width="0.35">1.E+04</text>
<text transform="translate(995.00,15.90) scale(1,1.06)" font-size="18.4" class="b" text-anchor="end" stroke="#000" stroke-width="0.35">1.E+05</text>
<text transform="translate(1011.10,392.20) scale(1,1.0)" font-size="18.4" class="b" text-anchor="middle" stroke="#000" stroke-width="0.35">25</text>
<text transform="translate(1134.53,392.20) scale(1,1.0)" font-size="18.4" class="b" text-anchor="middle" stroke="#000" stroke-width="0.35">35</text>
<text transform="translate(1257.97,392.20) scale(1,1.0)" font-size="18.4" class="b" text-anchor="middle" stroke="#000" stroke-width="0.35">45</text>
<text transform="translate(1381.40,392.20) scale(1,1.0)" font-size="18.4" class="b" text-anchor="middle" stroke="#000" stroke-width="0.35">55</text>
<text transform="translate(932.00,184.50) rotate(-90) scale(1,1.06)" font-size="24.2" class="b" text-anchor="middle" stroke="#000" stroke-width="0.35"><tspan font-style="italic">G</tspan>* (Pa)</text>
<text transform="translate(1170.30,417.50) scale(1,1.06)" font-size="22.8" stroke="#000" stroke-width="0.0001"><tspan class="b" font-style="italic" font-size="24.8" stroke-width="0.3">T</tspan><tspan font-size="21" x="21.6" y="-0.6">(</tspan><tspan font-size="21" x="29" y="-0.6">°</tspan><tspan class="b" stroke-width="0.3" x="38.8" y="0">C</tspan><tspan font-size="21" x="55.8" y="-0.6">)</tspan></text>
<polyline points="1012.3,52.7 1015.3,54.2 1018.3,56.2 1021.3,57.1 1024.3,57.7 1027.3,59.2 1030.3,60.7 1033.3,62.9 1036.3,64.0 1039.3,65.7 1042.3,67.7 1045.3,69.8 1048.3,72.0 1051.3,75.0 1054.3,78.0 1057.3,81.5 1060.3,86.4 1063.3,90.4 1066.3,98.0 1069.3,103.2 1072.3,108.1 1075.3,112.8 1078.3,116.4 1081.3,119.5 1084.3,123.5 1087.3,127.1 1090.3,130.8 1093.3,133.5 1096.3,135.2 1099.3,137.3 1102.3,139.8 1105.3,144.4 1108.3,148.0 1111.3,152.1 1114.3,157.7 1117.3,161.2 1120.3,166.4 1123.3,171.4 1126.3,176.5 1129.3,187.0 1132.3,200.6 1135.3,214.1 1138.3,227.0 1141.3,235.1 1144.3,238.9 1147.3,242.9 1150.5,247.0 1153.8,251.3 1157.5,254.2 1161.3,255.9 1165.5,259.1 1169.9,260.3 1174.3,261.6 1178.7,262.4 1183.1,263.2 1187.5,264.1 1191.9,265.0 1196.3,265.4 1200.7,265.7 1205.1,265.9 1209.5,265.7 1213.9,264.9 1218.3,264.9 1222.7,265.7 1227.1,266.3 1231.5,266.8 1235.9,266.4 1240.3,265.5 1244.7,266.4 1249.1,264.9 1253.5,265.9 1257.9,265.6 1262.3,264.2 1266.7,261.1 1271.1,261.7 1275.5,267.0 1279.9,268.2 1284.3,268.1 1288.7,267.2 1293.1,268.9 1297.5,272.0 1301.9,269.1 1306.3,267.3 1310.7,266.2 1315.1,265.7 1319.5,272.9 1323.9,272.2 1328.3,272.9 1332.7,270.7 1337.1,269.3 1341.5,269.3 1345.9,271.8 1350.3,271.7 1354.7,271.8 1359.1,269.5 1363.5,269.1 1367.9,268.5 1372.3,268.0 1376.7,267.9" fill="none" stroke="#c8000c" stroke-width="1.3"/>
<path d="M1009.7,50.1h5.2v5.2h-5.2zM1012.7,51.6h5.2v5.2h-5.2zM1015.7,53.6h5.2v5.2h-5.2zM1018.7,54.5h5.2v5.2h-5.2zM1021.7,55.1h5.2v5.2h-5.2zM1024.7,56.6h5.2v5.2h-5.2zM1027.7,58.1h5.2v5.2h-5.2zM1030.7,60.3h5.2v5.2h-5.2zM1033.7,61.4h5.2v5.2h-5.2zM1036.7,63.1h5.2v5.2h-5.2zM1039.7,65.1h5.2v5.2h-5.2zM1042.7,67.2h5.2v5.2h-5.2zM1045.7,69.4h5.2v5.2h-5.2zM1048.7,72.4h5.2v5.2h-5.2zM1051.7,75.4h5.2v5.2h-5.2zM1054.7,78.9h5.2v5.2h-5.2zM1057.7,83.8h5.2v5.2h-5.2zM1060.7,87.8h5.2v5.2h-5.2zM1063.7,95.4h5.2v5.2h-5.2zM1066.7,100.6h5.2v5.2h-5.2zM1069.7,105.5h5.2v5.2h-5.2zM1072.7,110.2h5.2v5.2h-5.2zM1075.7,113.8h5.2v5.2h-5.2zM1078.7,116.9h5.2v5.2h-5.2zM1081.7,120.9h5.2v5.2h-5.2zM1084.7,124.5h5.2v5.2h-5.2zM1087.7,128.2h5.2v5.2h-5.2zM1090.7,130.9h5.2v5.2h-5.2zM1093.7,132.6h5.2v5.2h-5.2zM1096.7,134.7h5.2v5.2h-5.2zM1099.7,137.2h5.2v5.2h-5.2zM1102.7,141.8h5.2v5.2h-5.2zM1105.7,145.4h5.2v5.2h-5.2zM1108.7,149.5h5.2v5.2h-5.2zM1111.7,155.1h5.2v5.2h-5.2zM1114.7,158.6h5.2v5.2h-5.2zM1117.7,163.8h5.2v5.2h-5.2zM1120.7,168.8h5.2v5.2h-5.2zM1123.7,173.9h5.2v5.2h-5.2zM1126.7,184.4h5.2v5.2h-5.2zM1129.7,198.0h5.2v5.2h-5.2zM1132.7,211.5h5.2v5.2h-5.2zM1135.7,224.4h5.2v5.2h-5.2zM1138.7,232.5h5.2v5.2h-5.2zM1141.7,236.3h5.2v5.2h-5.2zM1144.7,240.3h5.2v5.2h-5.2zM1147.9,244.4h5.2v5.2h-5.2zM1151.2,248.7h5.2v5.2h-5.2zM1154.9,251.6h5.2v5.2h-5.2zM1158.7,253.3h5.2v5.2h-5.2zM1162.9,256.5h5.2v5.2h-5.2zM1167.3,257.7h5.2v5.2h-5.2zM1171.7,259.0h5.2v5.2h-5.2zM1176.1,259.8h5.2v5.2h-5.2zM1180.5,260.6h5.2v5.2h-5.2zM1184.9,261.5h5.2v5.2h-5.2zM1189.3,262.4h5.2v5.2h-5.2zM1193.7,262.8h5.2v5.2h-5.2zM1198.1,263.1h5.2v5.2h-5.2zM1202.5,263.3h5.2v5.2h-5.2zM1206.9,263.1h5.2v5.2h-5.2zM1211.3,262.3h5.2v5.2h-5.2zM1215.7,262.3h5.2v5.2h-5.2zM1220.1,263.1h5.2v5.2h-5.2zM1224.5,263.7h5.2v5.2h-5.2zM1228.9,264.2h5.2v5.2h-5.2zM1233.3,263.8h5.2v5.2h-5.2zM1237.7,262.9h5.2v5.2h-5.2zM1242.1,263.8h5.2v5.2h-5.2zM1246.5,262.3h5.2v5.2h-5.2zM1250.9,263.3h5.2v5.2h-5.2zM1255.3,263.0h5.2v5.2h-5.2zM1259.7,261.6h5.2v5.2h-5.2zM1264.1,258.5h5.2v5.2h-5.2zM1268.5,259.1h5.2v5.2h-5.2zM1272.9,264.4h5.2v5.2h-5.2zM1277.3,265.6h5.2v5.2h-5.2zM1281.7,265.5h5.2v5.2h-5.2zM1286.1,264.6h5.2v5.2h-5.2zM1290.5,266.3h5.2v5.2h-5.2zM1294.9,269.4h5.2v5.2h-5.2zM1299.3,266.5h5.2v5.2h-5.2zM1303.7,264.7h5.2v5.2h-5.2zM1308.1,263.6h5.2v5.2h-5.2zM1312.5,263.1h5.2v5.2h-5.2zM1316.9,270.3h5.2v5.2h-5.2zM1321.3,269.6h5.2v5.2h-5.2zM1325.7,270.3h5.2v5.2h-5.2zM1330.1,268.1h5.2v5.2h-5.2zM1334.5,266.7h5.2v5.2h-5.2zM1338.9,266.7h5.2v5.2h-5.2zM1343.3,269.2h5.2v5.2h-5.2zM1347.7,269.1h5.2v5.2h-5.2zM1352.1,269.2h5.2v5.2h-5.2zM1356.5,266.9h5.2v5.2h-5.2zM1360.9,266.5h5.2v5.2h-5.2zM1365.3,265.9h5.2v5.2h-5.2zM1369.7,265.4h5.2v5.2h-5.2zM1374.1,265.3h5.2v5.2h-5.2z" fill="#e6000f" stroke="#000" stroke-width="1.0"/>
<polyline points="1012.3,82.5 1015.3,83.2 1018.3,82.0 1021.3,84.0 1024.3,87.2 1027.3,91.8 1030.3,94.1 1033.3,96.6 1036.3,98.2 1039.3,100.0 1042.3,101.8 1045.3,102.5 1048.3,99.9 1051.3,103.8 1054.3,105.7 1057.3,107.1 1060.3,108.9 1063.3,116.2 1066.3,117.0 1069.3,117.4 1072.3,121.0 1075.3,127.7 1078.3,133.8 1081.3,138.6 1084.3,142.4 1087.3,152.0 1090.3,167.4 1093.3,183.5 1096.3,200.6 1099.3,218.8 1102.3,229.4 1105.3,237.3 1108.3,244.4 1111.3,251.4 1114.3,255.4 1117.3,258.1 1120.3,260.0 1123.3,261.4 1126.3,262.6 1129.3,263.9 1132.3,265.2 1135.3,266.0 1138.3,266.7 1141.3,267.5 1144.3,268.1 1147.3,268.8 1150.5,269.4 1153.8,269.9 1157.5,270.5 1161.3,271.0 1165.5,271.3 1169.9,271.6 1174.3,272.0 1178.7,272.4 1183.1,272.8 1187.5,273.0 1191.9,273.2 1196.3,273.4 1200.7,273.6 1205.1,273.7 1209.5,273.8 1213.9,273.9 1218.3,274.0 1222.7,274.1 1227.1,274.1 1231.5,274.2 1235.9,274.3 1240.3,274.4 1244.7,274.5 1249.1,274.3 1253.5,274.1 1257.9,273.7 1262.3,273.3 1266.7,272.9 1271.1,272.5 1275.5,272.2 1279.9,271.9 1284.3,271.6 1288.7,271.1 1293.1,270.7 1297.5,270.3 1301.9,269.8 1306.3,269.4 1310.7,269.1 1315.1,268.8 1319.5,268.4 1323.9,268.1 1328.3,267.8 1332.7,267.6 1337.1,267.3 1341.5,266.9 1345.9,266.4 1350.3,266.0 1354.7,265.5 1359.1,265.1 1363.5,264.7 1367.9,264.2 1372.3,263.8 1376.7,263.3" fill="none" stroke="#2c4a14" stroke-width="1.3"/>
<path d="M1009.7,82.5a2.6,2.6 0 1,0 5.2,0a2.6,2.6 0 1,0 -5.2,0zM1012.7,83.2a2.6,2.6 0 1,0 5.2,0a2.6,2.6 0 1,0 -5.2,0zM1015.7,82.0a2.6,2.6 0 1,0 5.2,0a2.6,2.6 0 1,0 -5.2,0zM1018.7,84.0a2.6,2.6 0 1,0 5.2,0a2.6,2.6 0 1,0 -5.2,0zM1021.7,87.2a2.6,2.6 0 1,0 5.2,0a2.6,2.6 0 1,0 -5.2,0zM1024.7,91.8a2.6,2.6 0 1,0 5.2,0a2.6,2.6 0 1,0 -5.2,0zM1027.7,94.1a2.6,2.6 0 1,0 5.2,0a2.6,2.6 0 1,0 -5.2,0zM1030.7,96.6a2.6,2.6 0 1,0 5.2,0a2.6,2.6 0 1,0 -5.2,0zM1033.7,98.2a2.6,2.6 0 1,0 5.2,0a2.6,2.6 0 1,0 -5.2,0zM1036.7,100.0a2.6,2.6 0 1,0 5.2,0a2.6,2.6 0 1,0 -5.2,0zM1039.7,101.8a2.6,2.6 0 1,0 5.2,0a2.6,2.6 0 1,0 -5.2,0zM1042.7,102.5a2.6,2.6 0 1,0 5.2,0a2.6,2.6 0 1,0 -5.2,0zM1045.7,99.9a2.6,2.6 0 1,0 5.2,0a2.6,2.6 0 1,0 -5.2,0zM1048.7,103.8a2.6,2.6 0 1,0 5.2,0a2.6,2.6 0 1,0 -5.2,0zM1051.7,105.7a2.6,2.6 0 1,0 5.2,0a2.6,2.6 0 1,0 -5.2,0zM1054.7,107.1a2.6,2.6 0 1,0 5.2,0a2.6,2.6 0 1,0 -5.2,0zM1057.7,108.9a2.6,2.6 0 1,0 5.2,0a2.6,2.6 0 1,0 -5.2,0zM1060.7,116.2a2.6,2.6 0 1,0 5.2,0a2.6,2.6 0 1,0 -5.2,0zM1063.7,117.0a2.6,2.6 0 1,0 5.2,0a2.6,2.6 0 1,0 -5.2,0zM1066.7,117.4a2.6,2.6 0 1,0 5.2,0a2.6,2.6 0 1,0 -5.2,0zM1069.7,121.0a2.6,2.6 0 1,0 5.2,0a2.6,2.6 0 1,0 -5.2,0zM1072.7,127.7a2.6,2.6 0 1,0 5.2,0a2.6,2.6 0 1,0 -5.2,0zM1075.7,133.8a2.6,2.6 0 1,0 5.2,0a2.6,2.6 0 1,0 -5.2,0zM1078.7,138.6a2.6,2.6 0 1,0 5.2,0a2.6,2.6 0 1,0 -5.2,0zM1081.7,142.4a2.6,2.6 0 1,0 5.2,0a2.6,2.6 0 1,0 -5.2,0zM1084.7,152.0a2.6,2.6 0 1,0 5.2,0a2.6,2.6 0 1,0 -5.2,0zM1087.7,167.4a2.6,2.6 0 1,0 5.2,0a2.6,2.6 0 1,0 -5.2,0zM1090.7,183.5a2.6,2.6 0 1,0 5.2,0a2.6,2.6 0 1,0 -5.2,0zM1093.7,200.6a2.6,2.6 0 1,0 5.2,0a2.6,2.6 0 1,0 -5.2,0zM1096.7,218.8a2.6,2.6 0 1,0 5.2,0a2.6,2.6 0 1,0 -5.2,0zM1099.7,229.4a2.6,2.6 0 1,0 5.2,0a2.6,2.6 0 1,0 -5.2,0zM1102.7,237.3a2.6,2.6 0 1,0 5.2,0a2.6,2.6 0 1,0 -5.2,0zM1105.7,244.4a2.6,2.6 0 1,0 5.2,0a2.6,2.6 0 1,0 -5.2,0zM1108.7,251.4a2.6,2.6 0 1,0 5.2,0a2.6,2.6 0 1,0 -5.2,0zM1111.7,255.4a2.6,2.6 0 1,0 5.2,0a2.6,2.6 0 1,0 -5.2,0zM1114.7,258.1a2.6,2.6 0 1,0 5.2,0a2.6,2.6 0 1,0 -5.2,0zM1117.7,260.0a2.6,2.6 0 1,0 5.2,0a2.6,2.6 0 1,0 -5.2,0zM1120.7,261.4a2.6,2.6 0 1,0 5.2,0a2.6,2.6 0 1,0 -5.2,0zM1123.7,262.6a2.6,2.6 0 1,0 5.2,0a2.6,2.6 0 1,0 -5.2,0zM1126.7,263.9a2.6,2.6 0 1,0 5.2,0a2.6,2.6 0 1,0 -5.2,0zM1129.7,265.2a2.6,2.6 0 1,0 5.2,0a2.6,2.6 0 1,0 -5.2,0zM1132.7,266.0a2.6,2.6 0 1,0 5.2,0a2.6,2.6 0 1,0 -5.2,0zM1135.7,266.7a2.6,2.6 0 1,0 5.2,0a2.6,2.6 0 1,0 -5.2,0zM1138.7,267.5a2.6,2.6 0 1,0 5.2,0a2.6,2.6 0 1,0 -5.2,0zM1141.7,268.1a2.6,2.6 0 1,0 5.2,0a2.6,2.6 0 1,0 -5.2,0zM1144.7,268.8a2.6,2.6 0 1,0 5.2,0a2.6,2.6 0 1,0 -5.2,0zM1147.9,269.4a2.6,2.6 0 1,0 5.2,0a2.6,2.6 0 1,0 -5.2,0zM1151.2,269.9a2.6,2.6 0 1,0 5.2,0a2.6,2.6 0 1,0 -5.2,0zM1154.9,270.5a2.6,2.6 0 1,0 5.2,0a2.6,2.6 0 1,0 -5.2,0zM1158.7,271.0a2.6,2.6 0 1,0 5.2,0a2.6,2.6 0 1,0 -5.2,0zM1162.9,271.3a2.6,2.6 0 1,0 5.2,0a2.6,2.6 0 1,0 -5.2,0zM1167.3,271.6a2.6,2.6 0 1,0 5.2,0a2.6,2.6 0 1,0 -5.2,0zM1171.7,272.0a2.6,2.6 0 1,0 5.2,0a2.6,2.6 0 1,0 -5.2,0zM1176.1,272.4a2.6,2.6 0 1,0 5.2,0a2.6,2.6 0 1,0 -5.2,0zM1180.5,272.8a2.6,2.6 0 1,0 5.2,0a2.6,2.6 0 1,0 -5.2,0zM1184.9,273.0a2.6,2.6 0 1,0 5.2,0a2.6,2.6 0 1,0 -5.2,0zM1189.3,273.2a2.6,2.6 0 1,0 5.2,0a2.6,2.6 0 1,0 -5.2,0zM1193.7,273.4a2.6,2.6 0 1,0 5.2,0a2.6,2.6 0 1,0 -5.2,0zM1198.1,273.6a2.6,2.6 0 1,0 5.2,0a2.6,2.6 0 1,0 -5.2,0zM1202.5,273.7a2.6,2.6 0 1,0 5.2,0a2.6,2.6 0 1,0 -5.2,0zM1206.9,273.8a2.6,2.6 0 1,0 5.2,0a2.6,2.6 0 1,0 -5.2,0zM1211.3,273.9a2.6,2.6 0 1,0 5.2,0a2.6,2.6 0 1,0 -5.2,0zM1215.7,274.0a2.6,2.6 0 1,0 5.2,0a2.6,2.6 0 1,0 -5.2,0zM1220.1,274.1a2.6,2.6 0 1,0 5.2,0a2.6,2.6 0 1,0 -5.2,0zM1224.5,274.1a2.6,2.6 0 1,0 5.2,0a2.6,2.6 0 1,0 -5.2,0zM1228.9,274.2a2.6,2.6 0 1,0 5.2,0a2.6,2.6 0 1,0 -5.2,0zM1233.3,274.3a2.6,2.6 0 1,0 5.2,0a2.6,2.6 0 1,0 -5.2,0zM1237.7,274.4a2.6,2.6 0 1,0 5.2,0a2.6,2.6 0 1,0 -5.2,0zM1242.1,274.5a2.6,2.6 0 1,0 5.2,0a2.6,2.6 0 1,0 -5.2,0zM1246.5,274.3a2.6,2.6 0 1,0 5.2,0a2.6,2.6 0 1,0 -5.2,0zM1250.9,274.1a2.6,2.6 0 1,0 5.2,0a2.6,2.6 0 1,0 -5.2,0zM1255.3,273.7a2.6,2.6 0 1,0 5.2,0a2.6,2.6 0 1,0 -5.2,0zM1259.7,273.3a2.6,2.6 0 1,0 5.2,0a2.6,2.6 0 1,0 -5.2,0zM1264.1,272.9a2.6,2.6 0 1,0 5.2,0a2.6,2.6 0 1,0 -5.2,0zM1268.5,272.5a2.6,2.6 0 1,0 5.2,0a2.6,2.6 0 1,0 -5.2,0zM1272.9,272.2a2.6,2.6 0 1,0 5.2,0a2.6,2.6 0 1,0 -5.2,0zM1277.3,271.9a2.6,2.6 0 1,0 5.2,0a2.6,2.6 0 1,0 -5.2,0zM1281.7,271.6a2.6,2.6 0 1,0 5.2,0a2.6,2.6 0 1,0 -5.2,0zM1286.1,271.1a2.6,2.6 0 1,0 5.2,0a2.6,2.6 0 1,0 -5.2,0zM1290.5,270.7a2.6,2.6 0 1,0 5.2,0a2.6,2.6 0 1,0 -5.2,0zM1294.9,270.3a2.6,2.6 0 1,0 5.2,0a2.6,2.6 0 1,0 -5.2,0zM1299.3,269.8a2.6,2.6 0 1,0 5.2,0a2.6,2.6 0 1,0 -5.2,0zM1303.7,269.4a2.6,2.6 0 1,0 5.2,0a2.6,2.6 0 1,0 -5.2,0zM1308.1,269.1a2.6,2.6 0 1,0 5.2,0a2.6,2.6 0 1,0 -5.2,0zM1312.5,268.8a2.6,2.6 0 1,0 5.2,0a2.6,2.6 0 1,0 -5.2,0zM1316.9,268.4a2.6,2.6 0 1,0 5.2,0a2.6,2.6 0 1,0 -5.2,0zM1321.3,268.1a2.6,2.6 0 1,0 5.2,0a2.6,2.6 0 1,0 -5.2,0zM1325.7,267.8a2.6,2.6 0 1,0 5.2,0a2.6,2.6 0 1,0 -5.2,0zM1330.1,267.6a2.6,2.6 0 1,0 5.2,0a2.6,2.6 0 1,0 -5.2,0zM1334.5,267.3a2.6,2.6 0 1,0 5.2,0a2.6,2.6 0 1,0 -5.2,0zM1338.9,266.9a2.6,2.6 0 1,0 5.2,0a2.6,2.6 0 1,0 -5.2,0zM1343.3,266.4a2.6,2.6 0 1,0 5.2,0a2.6,2.6 0 1,0 -5.2,0zM1347.7,266.0a2.6,2.6 0 1,0 5.2,0a2.6,2.6 0 1,0 -5.2,0zM1352.1,265.5a2.6,2.6 0 1,0 5.2,0a2.6,2.6 0 1,0 -5.2,0zM1356.5,265.1a2.6,2.6 0 1,0 5.2,0a2.6,2.6 0 1,0 -5.2,0zM1360.9,264.7a2.6,2.6 0 1,0 5.2,0a2.6,2.6 0 1,0 -5.2,0zM1365.3,264.2a2.6,2.6 0 1,0 5.2,0a2.6,2.6 0 1,0 -5.2,0zM1369.7,263.8a2.6,2.6 0 1,0 5.2,0a2.6,2.6 0 1,0 -5.2,0zM1374.1,263.3a2.6,2.6 0 1,0 5.2,0a2.6,2.6 0 1,0 -5.2,0z" fill="#46702a" stroke="#000" stroke-width="1.0"/>
<line x1="1237" y1="43.7" x2="1268" y2="43.7" stroke="#c8000c" stroke-width="2.6" stroke-linecap="round"/>
<rect x="1249.5" y="40.7" width="5.92" height="5.92" fill="#e6000f" stroke="#000" stroke-width="1.8"/>
<text transform="translate(1277.70,53.30) scale(1,1.06)" font-size="23.2" class="b" stroke="#000" stroke-width="0.2">Heating</text>
<line x1="1236.5" y1="83.7" x2="1267" y2="83.7" stroke="#2c4a14" stroke-width="2.6" stroke-linecap="round"/>
<circle cx="1251.8" cy="83.7" r="2.78" fill="#46702a" stroke="#000" stroke-width="1.9"/>
<text transform="translate(1277.00,93.30) scale(1,1.06)" font-size="23.2" class="b" stroke="#000" stroke-width="0.2">Cooling</text>
<path d="M1141.0,185.4 L1154.6,207.8 L1150.3,210.5 L1163.5,218.2 L1162.7,202.9 L1158.4,205.5 L1144.8,183.2Z" fill="#000"/>
<path d="M1094.0,247.7 L1084.7,227.1 L1089.3,225.0 L1077.1,215.7 L1076.0,231.0 L1080.7,228.9 L1090.0,249.5Z" fill="#000"/>
<text transform="translate(1032.20,315.30) scale(1,1.06)" font-size="21.1" class="b" stroke="#000" stroke-width="0.35">Capillary suspension with</text>
<text transform="translate(1032.20,341.40) scale(1,1.06)" font-size="21.1" class="b" stroke="#000" stroke-width="0.35">bridges of Sea Prep agarose gel</text>
</svg>
</body></html>
